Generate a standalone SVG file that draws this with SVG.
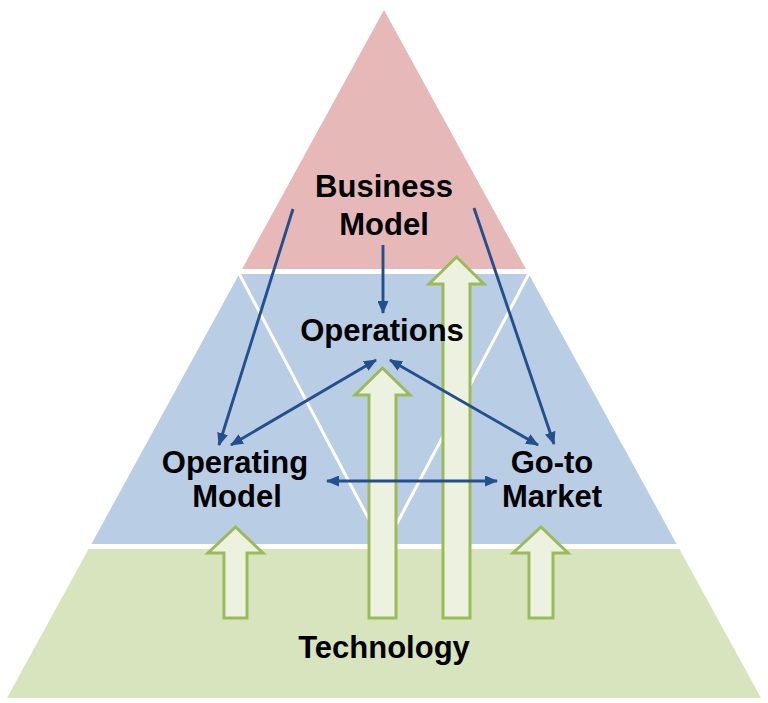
<svg xmlns="http://www.w3.org/2000/svg" width="768" height="703" viewBox="0 0 768 703">
<defs>
<style>
.lbl{font-family:"Liberation Sans",Arial,sans-serif;font-weight:bold;font-size:31px;fill:#000;text-anchor:middle}
.con{stroke:#234F8C;stroke-width:2.9;fill:none}
.up{fill:#EDF2E0;stroke:#9BBB59;stroke-width:3;stroke-linejoin:miter}
</style>
<marker id="ah" viewBox="0 0 13 11" refX="12" refY="5.5" markerWidth="13" markerHeight="11" markerUnits="userSpaceOnUse" orient="auto-start-reverse">
<path d="M0,0 L13,5.5 L0,11 z" fill="#234F8C"/>
</marker>
</defs>
<rect width="768" height="703" fill="#fff"/>
<g id="pyramid">
<polygon points="384,10 525.9,269 242.1,269" fill="#E6B9B8"/>
<polygon points="239.3,274 528.7,274 676.6,544 91.4,544" fill="#B9CDE5"/>
<polygon points="88.6,549 679.4,549 761,698 7,698" fill="#D7E4BD"/>
<polyline points="239.3,274 384,548 528.7,274" fill="none" stroke="#fff" stroke-width="3"/>
</g>
<g id="tech-arrows">
<polygon class="up" points="224,618 224,553 208,553 235.5,527 263,553 247,553 247,618"/>
<polygon class="up" points="529,618 529,553 513,553 541,527 568,553 553,553 553,618"/>
<polygon class="up" points="369,618 369,395 355,395 382.5,368 410,395 396,395 396,618"/>
<polygon class="up" points="443,618 443,284 429,284 456.5,257 484,284 470,284 470,618"/>
</g>
<g id="connectors">
<line class="con" x1="383" y1="245" x2="383" y2="313" marker-end="url(#ah)"/>
<line class="con" x1="293" y1="209" x2="219" y2="445" marker-end="url(#ah)"/>
<line class="con" x1="474" y1="208" x2="554" y2="444" marker-end="url(#ah)"/>
<line class="con" x1="376" y1="360" x2="231" y2="445" marker-start="url(#ah)" marker-end="url(#ah)"/>
<line class="con" x1="390" y1="360" x2="538" y2="445" marker-start="url(#ah)" marker-end="url(#ah)"/>
<line class="con" x1="327" y1="481" x2="497" y2="481" marker-start="url(#ah)" marker-end="url(#ah)"/>
</g>
<g id="business-model"><text class="lbl" x="384" y="197">Business</text><text class="lbl" x="384" y="235">Model</text></g>
<g id="operations"><text class="lbl" x="382" y="341">Operations</text></g>
<g id="operating-model"><text class="lbl" x="235" y="473">Operating</text><text class="lbl" x="237" y="507">Model</text></g>
<g id="go-to-market"><text class="lbl" x="552" y="473">Go-to</text><text class="lbl" x="552" y="507">Market</text></g>
<g id="technology"><text class="lbl" x="384" y="658">Technology</text></g>
</svg>
